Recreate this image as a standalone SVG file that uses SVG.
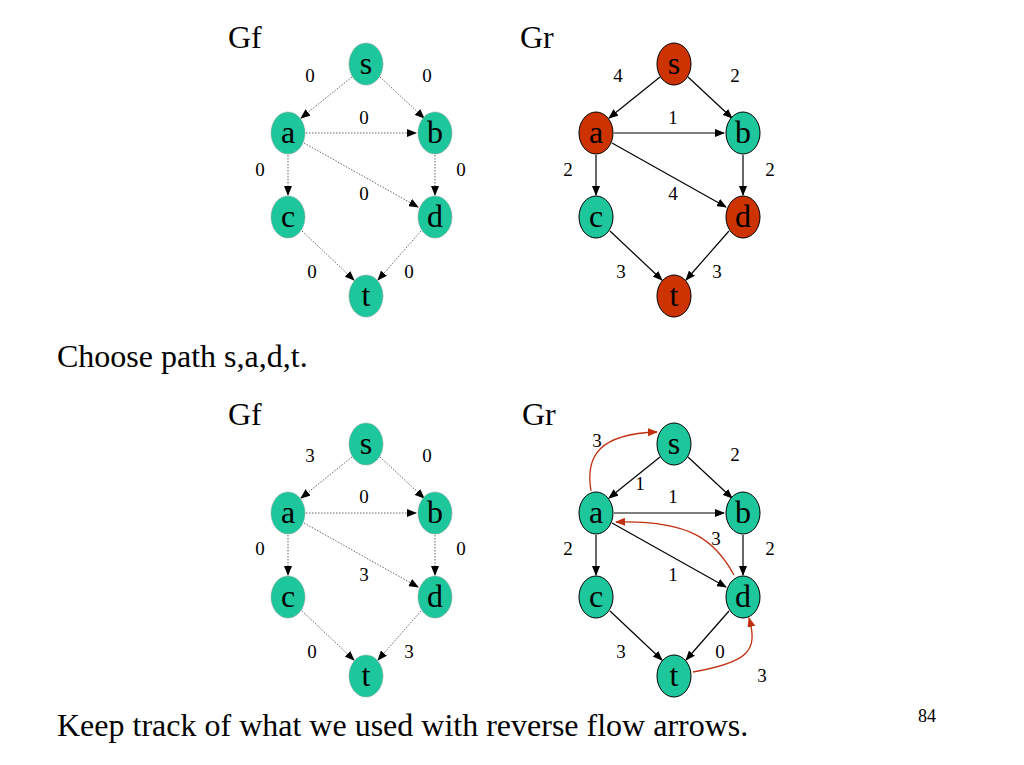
<svg xmlns="http://www.w3.org/2000/svg" width="1024" height="765" viewBox="0 0 1024 765" font-family="'Liberation Serif', 'Times New Roman', serif">
<style>
text{font-family:'Liberation Serif','Times New Roman',serif;fill:#000}
.n ellipse{stroke:#000;stroke-width:1}
.g{fill:#1ec69c}
.r{fill:#cc3300}
.gf ellipse{stroke:#999;stroke-dasharray:1 1}
.n text{font-size:32px;text-anchor:middle}
.l{font-size:19px;text-anchor:middle}
.t{font-size:32px}
.dot{stroke:#666;stroke-width:1;stroke-dasharray:1.5 1.5;fill:none;marker-end:url(#ah)}
.sol{stroke:#000;stroke-width:1.2;fill:none;marker-end:url(#ah)}
.red{stroke:#c03010;stroke-width:1.3;fill:none;marker-end:url(#ar)}
</style>
<defs>
<marker id="ah" markerWidth="10" markerHeight="8" refX="9" refY="4" orient="auto" markerUnits="userSpaceOnUse"><path d="M0,0L10,4L0,8z" fill="#000"/></marker>
<marker id="ar" markerWidth="10" markerHeight="8" refX="9" refY="4" orient="auto" markerUnits="userSpaceOnUse"><path d="M0,0L10,4L0,8z" fill="#c03010"/></marker>
</defs>
<rect width="1024" height="765" fill="#fff"/>
<text class="t" x="228" y="48">Gf</text>
<text class="t" x="520" y="48">Gr</text>
<text class="t" x="228" y="425">Gf</text>
<text class="t" x="522" y="425">Gr</text>
<text class="t" x="57" y="367">Choose path s,a,d,t.</text>
<text class="t" x="57" y="736">Keep track of what we used with reverse flow arrows.</text>
<text x="918" y="722" style="font-size:18px">84</text>

<g id="connectors">
<path class="dot" d="M352,77L301,118"/><path class="dot" d="M380,77L424,118"/><path class="dot" d="M306,133L416,133"/><path class="dot" d="M304,143L418,207"/><path class="dot" d="M288,155L288,195"/><path class="dot" d="M435,155L435,195"/><path class="dot" d="M302,231L354,280"/><path class="dot" d="M421,231L378,280"/>
<path class="sol" d="M660,77L609,118"/><path class="sol" d="M688,77L732,118"/><path class="sol" d="M614,133L724,133"/><path class="sol" d="M612,143L726,207"/><path class="sol" d="M596,155L596,195"/><path class="sol" d="M743,155L743,195"/><path class="sol" d="M610,231L662,280"/><path class="sol" d="M729,231L686,280"/>
<path class="dot" d="M352,457L301,498"/><path class="dot" d="M380,457L424,498"/><path class="dot" d="M306,513L416,513"/><path class="dot" d="M304,523L418,587"/><path class="dot" d="M288,535L288,575"/><path class="dot" d="M435,535L435,575"/><path class="dot" d="M302,611L354,660"/><path class="dot" d="M421,611L378,660"/>
<path class="sol" d="M660,457L609,498"/><path class="sol" d="M688,457L732,498"/><path class="sol" d="M614,513L724,513"/><path class="sol" d="M612,523L726,587"/><path class="sol" d="M596,535L596,575"/><path class="sol" d="M743,535L743,575"/><path class="sol" d="M610,611L662,660"/><path class="sol" d="M729,611L686,660"/>
<path class="red" d="M591,491C585,455 600,434 657,432"/>
<path class="red" d="M734,575C715,540 690,520 616,522"/>
<path class="red" d="M693,672C750,662 758,650 749,618"/>
</g>

<g id="labels">
<text class="l" x="310" y="82">0</text><text class="l" x="427" y="82">0</text><text class="l" x="364" y="124">0</text><text class="l" x="260" y="176">0</text><text class="l" x="461" y="176">0</text><text class="l" x="364" y="200">0</text><text class="l" x="312" y="278">0</text><text class="l" x="409" y="278">0</text>
<text class="l" x="618" y="82">4</text><text class="l" x="735" y="82">2</text><text class="l" x="673" y="124">1</text><text class="l" x="568" y="176">2</text><text class="l" x="770" y="176">2</text><text class="l" x="673" y="200">4</text><text class="l" x="621" y="278">3</text><text class="l" x="717" y="278">3</text>
<text class="l" x="310" y="462">3</text><text class="l" x="427" y="462">0</text><text class="l" x="364" y="503">0</text><text class="l" x="260" y="555">0</text><text class="l" x="461" y="555">0</text><text class="l" x="364" y="581">3</text><text class="l" x="312" y="658">0</text><text class="l" x="409" y="658">3</text>
<text class="l" x="597" y="447">3</text><text class="l" x="735" y="461">2</text><text class="l" x="640" y="490">1</text><text class="l" x="673" y="503">1</text><text class="l" x="716" y="545">3</text><text class="l" x="568" y="555">2</text><text class="l" x="770" y="555">2</text><text class="l" x="673" y="581">1</text><text class="l" x="621" y="658">3</text><text class="l" x="720" y="658">0</text><text class="l" x="762" y="682">3</text>
</g>

<g id="gf1-s" class="n gf"><ellipse class="g" cx="366" cy="64" rx="17" ry="21"/><text x="366" y="74">s</text></g>
<g id="gf1-a" class="n gf"><ellipse class="g" cx="288" cy="133" rx="17" ry="21"/><text x="288" y="143">a</text></g>
<g id="gf1-b" class="n gf"><ellipse class="g" cx="435" cy="133" rx="17" ry="21"/><text x="435" y="143">b</text></g>
<g id="gf1-c" class="n gf"><ellipse class="g" cx="288" cy="217" rx="17" ry="21"/><text x="288" y="227">c</text></g>
<g id="gf1-d" class="n gf"><ellipse class="g" cx="435" cy="217" rx="17" ry="21"/><text x="435" y="227">d</text></g>
<g id="gf1-t" class="n gf"><ellipse class="g" cx="366" cy="296" rx="17" ry="21"/><text x="366" y="306">t</text></g>

<g id="gr1-s" class="n"><ellipse class="r" cx="674" cy="64" rx="17" ry="21"/><text x="674" y="74">s</text></g>
<g id="gr1-a" class="n"><ellipse class="r" cx="596" cy="133" rx="17" ry="21"/><text x="596" y="143">a</text></g>
<g id="gr1-b" class="n"><ellipse class="g" cx="743" cy="133" rx="17" ry="21"/><text x="743" y="143">b</text></g>
<g id="gr1-c" class="n"><ellipse class="g" cx="596" cy="217" rx="17" ry="21"/><text x="596" y="227">c</text></g>
<g id="gr1-d" class="n"><ellipse class="r" cx="743" cy="217" rx="17" ry="21"/><text x="743" y="227">d</text></g>
<g id="gr1-t" class="n"><ellipse class="r" cx="674" cy="296" rx="17" ry="21"/><text x="674" y="306">t</text></g>

<g id="gf2-s" class="n gf"><ellipse class="g" cx="366" cy="444" rx="17" ry="21"/><text x="366" y="454">s</text></g>
<g id="gf2-a" class="n gf"><ellipse class="g" cx="288" cy="513" rx="17" ry="21"/><text x="288" y="523">a</text></g>
<g id="gf2-b" class="n gf"><ellipse class="g" cx="435" cy="513" rx="17" ry="21"/><text x="435" y="523">b</text></g>
<g id="gf2-c" class="n gf"><ellipse class="g" cx="288" cy="597" rx="17" ry="21"/><text x="288" y="607">c</text></g>
<g id="gf2-d" class="n gf"><ellipse class="g" cx="435" cy="597" rx="17" ry="21"/><text x="435" y="607">d</text></g>
<g id="gf2-t" class="n gf"><ellipse class="g" cx="366" cy="676" rx="17" ry="21"/><text x="366" y="686">t</text></g>

<g id="gr2-s" class="n"><ellipse class="g" cx="674" cy="444" rx="17" ry="21"/><text x="674" y="454">s</text></g>
<g id="gr2-a" class="n"><ellipse class="g" cx="596" cy="513" rx="17" ry="21"/><text x="596" y="523">a</text></g>
<g id="gr2-b" class="n"><ellipse class="g" cx="743" cy="513" rx="17" ry="21"/><text x="743" y="523">b</text></g>
<g id="gr2-c" class="n"><ellipse class="g" cx="596" cy="597" rx="17" ry="21"/><text x="596" y="607">c</text></g>
<g id="gr2-d" class="n"><ellipse class="g" cx="743" cy="597" rx="17" ry="21"/><text x="743" y="607">d</text></g>
<g id="gr2-t" class="n"><ellipse class="g" cx="674" cy="676" rx="17" ry="21"/><text x="674" y="686">t</text></g>
</svg>
